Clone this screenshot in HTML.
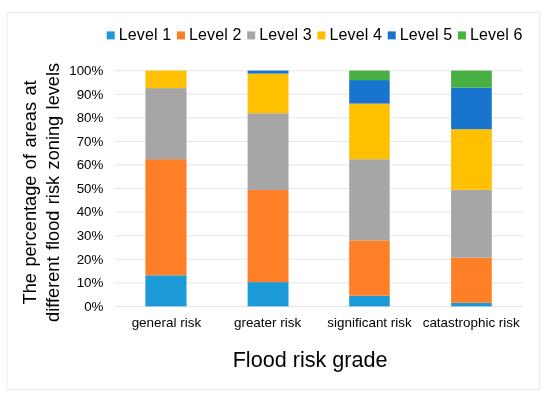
<!DOCTYPE html>
<html lang="en">
<head>
<meta charset="utf-8">
<title>Flood risk grade chart</title>
<style>
html,body{margin:0;padding:0;background:#fff;}
body{width:550px;height:398px;overflow:hidden;}
svg{display:block;}
text{font-family:"Liberation Sans",Arial,Helvetica,sans-serif;fill:#000;}
.tick{font-size:13.33px;}
.cat{font-size:13.45px;}
.leg{font-size:16px;letter-spacing:0.14px;}
.xt{font-size:21.6px;}
.yt{font-size:18.2px;word-spacing:1.4px;}
</style>
</head>
<body>
<svg width="550" height="398" viewBox="0 0 550 398">
<rect x="0" y="0" width="550" height="398" fill="#ffffff"/>
<rect x="6.9" y="12.4" width="532.6" height="376.9" fill="#ffffff" stroke="#e8e8e8" stroke-width="1"/>

<g stroke="#e0e0e0" stroke-width="0.85">
<line x1="114.6" y1="70.70" x2="523" y2="70.70"/>
<line x1="114.6" y1="94.27" x2="523" y2="94.27"/>
<line x1="114.6" y1="117.84" x2="523" y2="117.84"/>
<line x1="114.6" y1="141.41" x2="523" y2="141.41"/>
<line x1="114.6" y1="164.98" x2="523" y2="164.98"/>
<line x1="114.6" y1="188.55" x2="523" y2="188.55"/>
<line x1="114.6" y1="212.12" x2="523" y2="212.12"/>
<line x1="114.6" y1="235.69" x2="523" y2="235.69"/>
<line x1="114.6" y1="259.26" x2="523" y2="259.26"/>
<line x1="114.6" y1="282.83" x2="523" y2="282.83"/>
<line x1="114.6" y1="306.40" x2="523" y2="306.40"/>
</g>
<g shape-rendering="auto">
<rect x="145.4" y="275.3" width="41.10" height="31.10" fill="#1b9ad7"/>
<rect x="145.4" y="159.2" width="41.10" height="116.10" fill="#ff7f27"/>
<rect x="145.4" y="88.1" width="41.10" height="71.10" fill="#a6a6a6"/>
<rect x="145.4" y="70.6" width="41.10" height="17.50" fill="#ffc000"/>
<rect x="247.6" y="282.1" width="40.90" height="24.30" fill="#1b9ad7"/>
<rect x="247.6" y="189.9" width="40.90" height="92.20" fill="#ff7f27"/>
<rect x="247.6" y="113.2" width="40.90" height="76.70" fill="#a6a6a6"/>
<rect x="247.6" y="73.6" width="40.90" height="39.60" fill="#ffc000"/>
<rect x="247.6" y="70.6" width="40.90" height="3.00" fill="#1874cd"/>
<rect x="349.2" y="295.7" width="40.50" height="10.70" fill="#1b9ad7"/>
<rect x="349.2" y="240.4" width="40.50" height="55.30" fill="#ff7f27"/>
<rect x="349.2" y="159.2" width="40.50" height="81.20" fill="#a6a6a6"/>
<rect x="349.2" y="103.6" width="40.50" height="55.60" fill="#ffc000"/>
<rect x="349.2" y="80.1" width="40.50" height="23.50" fill="#1874cd"/>
<rect x="349.2" y="70.6" width="40.50" height="9.50" fill="#46b041"/>
<rect x="451.1" y="302.8" width="40.70" height="3.60" fill="#1b9ad7"/>
<rect x="451.1" y="257.7" width="40.70" height="45.10" fill="#ff7f27"/>
<rect x="451.1" y="189.8" width="40.70" height="67.90" fill="#a6a6a6"/>
<rect x="451.1" y="129.2" width="40.70" height="60.60" fill="#ffc000"/>
<rect x="451.1" y="87.6" width="40.70" height="41.60" fill="#1874cd"/>
<rect x="451.1" y="70.6" width="40.70" height="17.00" fill="#46b041"/>
</g>
<g class="tick" text-anchor="end">
<text x="103.4" y="310.65">0%</text>
<text x="103.4" y="287.08">10%</text>
<text x="103.4" y="263.51">20%</text>
<text x="103.4" y="239.94">30%</text>
<text x="103.4" y="216.37">40%</text>
<text x="103.4" y="192.80">50%</text>
<text x="103.4" y="169.23">60%</text>
<text x="103.4" y="145.66">70%</text>
<text x="103.4" y="122.09">80%</text>
<text x="103.4" y="98.52">90%</text>
<text x="103.4" y="74.95">100%</text>
</g>
<g class="cat" text-anchor="middle">
<text x="166.39" y="326.7">general risk</text>
<text x="267.56" y="326.7">greater risk</text>
<text x="369.54" y="326.7">significant risk</text>
<text x="471.21" y="326.7">catastrophic risk</text>
</g>
<g class="leg">
<rect x="106.70" y="31.4" width="8" height="8" fill="#1b9ad7"/>
<text x="118.75" y="40">Level 1</text>
<rect x="176.95" y="31.4" width="8" height="8" fill="#ff7f27"/>
<text x="189.00" y="40">Level 2</text>
<rect x="247.20" y="31.4" width="8" height="8" fill="#a6a6a6"/>
<text x="259.25" y="40">Level 3</text>
<rect x="317.45" y="31.4" width="8" height="8" fill="#ffc000"/>
<text x="329.50" y="40">Level 4</text>
<rect x="387.70" y="31.4" width="8" height="8" fill="#1874cd"/>
<text x="399.75" y="40">Level 5</text>
<rect x="457.95" y="31.4" width="8" height="8" fill="#46b041"/>
<text x="470.00" y="40">Level 6</text>
</g>
<text class="xt" text-anchor="middle" x="310.1" y="366.5">Flood risk grade</text>
<text class="yt" text-anchor="middle" transform="translate(36.15,192.4) rotate(-90)">The percentage of areas at</text>
<text class="yt" text-anchor="middle" transform="translate(58.7,192.4) rotate(-90)">different flood risk zoning levels</text>
</svg>
</body>
</html>
